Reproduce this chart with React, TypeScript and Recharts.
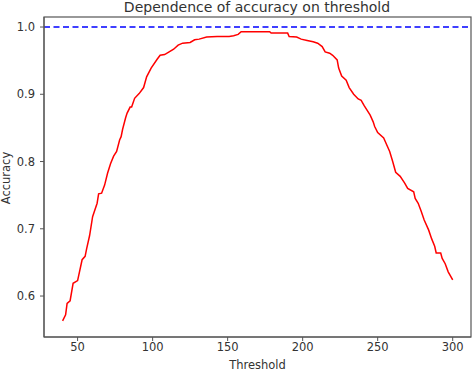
import React from "react";
import { LineChart, Line, XAxis, YAxis, ReferenceLine, Label } from "recharts";

const THRESHOLDS = [
  40, 42, 43, 45, 47, 50, 53, 55, 56, 58, 60, 63, 64, 66, 68, 70, 72, 74, 76, 78, 79, 80, 82, 83, 85, 86, 88, 91, 94, 96, 99,
  103, 105, 108, 111, 114, 117, 120, 125, 128, 131, 136, 143, 151, 154, 157, 159, 178, 179, 190, 191, 196, 199, 203, 207,
  210, 213, 215, 218, 220, 223, 224, 226, 229, 231, 234, 237, 239, 241, 245, 247, 248, 250, 254, 256, 258, 260, 262, 265,
  268, 270, 274, 275, 277, 279, 281, 284, 286, 288, 289, 292, 293, 295, 297, 300,
];
const ACCURACY = [
  0.563, 0.572, 0.589, 0.593, 0.619, 0.623, 0.654, 0.659, 0.67, 0.69, 0.718, 0.738, 0.752, 0.753, 0.765, 0.783, 0.797,
  0.808, 0.815, 0.832, 0.837, 0.848, 0.865, 0.872, 0.881, 0.881, 0.894, 0.901, 0.91, 0.926, 0.939, 0.952, 0.958, 0.959,
  0.963, 0.967, 0.973, 0.976, 0.977, 0.981, 0.982, 0.985, 0.986, 0.986, 0.987, 0.989, 0.993, 0.993, 0.991, 0.991, 0.986,
  0.985, 0.982, 0.98, 0.978, 0.976, 0.971, 0.963, 0.961, 0.958, 0.951, 0.939, 0.927, 0.921, 0.91, 0.9, 0.893, 0.891,
  0.883, 0.869, 0.859, 0.852, 0.843, 0.835, 0.825, 0.815, 0.8, 0.784, 0.778, 0.768, 0.76, 0.755, 0.745, 0.738, 0.726,
  0.713, 0.698, 0.685, 0.674, 0.664, 0.664, 0.656, 0.648, 0.636, 0.624,
];
const X_TICKS = [50, 100, 150, 200, 250, 300];
const Y_TICKS = [0.6, 0.7, 0.8, 0.9, 1.0];
const PERFECT_ACCURACY = 1.0;
const TITLE = "Dependence of accuracy on threshold";
const X_LABEL = "Threshold";
const Y_LABEL = "Accuracy";

const X_DOMAIN: [number, number] = [27.6, 312.2];
const Y_DOMAIN: [number, number] = [0.5391, 1.0149];

const data = THRESHOLDS.map((t, i) => ({ threshold: t, accuracy: ACCURACY[i] }));

const FONT = "DejaVu Sans";
const SPINE = "#555";
const TEXT = "#333";

// plot-area frame (layout only)
const PLOT = { left: 44, top: 17, right: 471, bottom: 337 };

export default function App() {
  return (
    <div style={{ position: "absolute", left: 0, top: 0, width: 474, height: 372, background: "#fff" }}>
      <LineChart
        width={474}
        height={372}
        data={data}
        margin={{ top: PLOT.top, right: 474 - PLOT.right, bottom: 0, left: 0 }}
        style={{ position: "absolute", left: 0, top: 0 }}
      >
        <XAxis
          dataKey="threshold"
          type="number"
          domain={X_DOMAIN}
          ticks={X_TICKS}
          allowDataOverflow
          height={372 - PLOT.bottom}
          tickSize={4}
          tickMargin={2}
          stroke={SPINE}
          tick={{ fill: TEXT, fontSize: 11.5, fontFamily: FONT }}
        >
          <Label value={X_LABEL} position="insideBottom" offset={3} fill={TEXT} fontSize={11.5} fontFamily={FONT} />
        </XAxis>
        <YAxis
          type="number"
          domain={Y_DOMAIN}
          ticks={Y_TICKS}
          allowDataOverflow
          width={PLOT.left}
          tickSize={4}
          tickMargin={5}
          stroke={SPINE}
          tickFormatter={(v: number) => v.toFixed(1)}
          tick={{ fill: TEXT, fontSize: 11.5, fontFamily: FONT }}
        />
        <ReferenceLine y={PERFECT_ACCURACY} stroke="#0000ff" strokeWidth={1.5} strokeDasharray="6 3.5" />
        <Line
          dataKey="accuracy"
          type="linear"
          stroke="#ff0000"
          strokeWidth={1.5}
          dot={false}
          isAnimationActive={false}
        />
      </LineChart>
      <svg style={{ position: "absolute", left: 0, top: 0, pointerEvents: "none" }} width={474} height={372}>
        <rect
          x={PLOT.left}
          y={PLOT.top}
          width={PLOT.right - PLOT.left}
          height={PLOT.bottom - PLOT.top}
          fill="none"
          stroke={SPINE}
          strokeWidth={1.2}
        />
        <text x={257} y={11.5} textAnchor="middle" fontFamily={FONT} fontSize={14} fill={TEXT}>
          {TITLE}
        </text>
        <text
          x={10}
          y={178}
          textAnchor="middle"
          fontFamily={FONT}
          fontSize={11.5}
          fill={TEXT}
          transform="rotate(-90 10 178)"
        >
          {Y_LABEL}
        </text>
      </svg>
    </div>
  );
}
